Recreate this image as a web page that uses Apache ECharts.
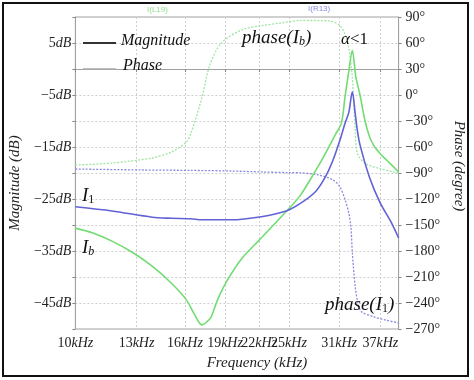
<!DOCTYPE html>
<html><head><meta charset="utf-8">
<script src="https://cdn.jsdelivr.net/npm/echarts@6/dist/echarts.min.js"></script>
<style>html,body{margin:0;padding:0;background:#fff}#c{width:474px;height:380px}</style>
</head><body><div id="c"></div>
<script>
// Frequency ticks (kHz)
const freqTicks = [10, 13, 16, 19, 22, 25, 31, 37];

// Magnitude of I_b (dB) - green solid
const ibMagFreq = [10, 10.75, 11.7, 12.74, 13.9, 15.1, 16.1, 16.65, 17.2, 17.5, 17.9, 18.4, 19.1, 20.4, 22.0, 24.6, 26.2, 28.0, 29.2, 30.5, 31.3, 31.8, 32.3, 32.8, 33.3, 33.9, 34.6, 35.3, 36.0, 36.9, 37.7, 38.5, 40];
const ibMag     = [-30.6, -31.5, -33.1, -35.2, -37.9, -41.2, -44.4, -47.1, -49.2, -48.8, -47.7, -44.4, -41, -36.5, -32.9, -27.6, -24.4, -19.6, -16.3, -12.6, -10.4, -5.2, -0.5, 3.6, -1.5, -5, -9.8, -13, -14.8, -16.2, -17.2, -18.1, -19.8];

// Magnitude of I_1 (dB) - blue solid
const i1MagFreq = [10, 11.7, 13.9, 15.1, 16.4, 17.2, 19.5, 22.2, 24.7, 26.2, 28.0, 29.2, 30.2, 31.1, 31.8, 32.3, 32.8, 33.2, 33.5, 33.9, 35.3, 36.9, 38.8, 40];
const i1Mag     = [-26.5, -27.3, -28.5, -28.7, -28.8, -29, -29, -28.4, -27.3, -25.9, -23.6, -20.8, -17.5, -13.7, -10.4, -8.4, -4.4, -8.5, -11.7, -14.6, -20.8, -25.6, -29.6, -32.5];

// Phase of I_b (degree) - green dotted
const ibPhFreq = [10, 11.7, 13.9, 15.1, 16.1, 16.4, 17.2, 17.8, 18.7, 20.4, 22.2, 24.1, 26.2, 29.8, 31.1, 31.8, 32.3, 32.8, 33.2, 33.5, 34.6, 36.9, 40];
const ibPh     = [-80.8, -78.5, -72.7, -65.8, -54.2, -45, -3.5, 34.6, 60, 75, 80, 83, 86, 85.5, 80, 70, 55, 20, -40, -67, -78.5, -85, -90];

// Phase of I_1 (degree) - blue dotted
const i1PhFreq = [10, 13.3, 16.4, 19.5, 22.2, 25.1, 26.2, 28.4, 30.2, 31.1, 31.8, 32.3, 32.6, 32.8, 33.2, 33.6, 34.1, 36.0, 38.0, 40];
const i1Ph     = [-85.4, -86.5, -87, -87.7, -88.8, -89.6, -89.8, -92.3, -98, -106, -121, -136, -152, -182, -221, -240, -250, -256, -260, -263];

const zip = (a, b) => a.map((v, i) => [v, b[i]]);
const GREEN = '#72dc72', BLUE = '#6262d6';
const SERIF = '"Liberation Serif", "DejaVu Serif", serif';
const minus = s => String(s).replace('-', '\u2212');

const chart = echarts.init(document.getElementById('c'));
chart.setOption({
  animation: false,
  backgroundColor: '#fff',
  grid: { left: 73, right: 75, top: 17, bottom: 51, show: true, borderColor: '#a0a0a0', borderWidth: 1 },
  xAxis: {
    type: 'log', logBase: 10, min: 10, max: 40,
    name: 'Frequency (kHz)', nameLocation: 'middle', nameGap: 27,
    nameTextStyle: { fontFamily: SERIF, fontStyle: 'italic', fontSize: 15, color: '#222', padding: [0, 0, 0, 40] },
    axisLine: { show: true, lineStyle: { color: '#a0a0a0' } },
    axisTick: { show: true, length: 3, customValues: freqTicks, lineStyle: { color: '#888' } },
    minorTick: { show: false },
    axisLabel: {
      customValues: freqTicks, margin: 7,
      formatter: v => '{n|' + Math.round(v) + '}{u|kHz}',
      rich: {
        n: { fontFamily: SERIF, fontSize: 14, color: '#222' },
        u: { fontFamily: SERIF, fontSize: 14, fontStyle: 'italic', color: '#222' }
      }
    },
    splitLine: { show: true, lineStyle: { color: '#cfcfcf', type: [2, 2] } }
  },
  yAxis: [{
    type: 'value', min: -50, max: 10, interval: 5,
    name: 'Magnitude (dB)', nameLocation: 'middle', nameGap: 45, nameRotate: 90,
    nameTextStyle: { fontFamily: SERIF, fontStyle: 'italic', fontSize: 15, color: '#222', padding: [0, 20, 0, 0] },
    axisLine: { show: true, lineStyle: { color: '#a0a0a0' } },
    axisTick: { show: true, length: 3, lineStyle: { color: '#888' } },
    axisLabel: {
      margin: 4,
      formatter: v => (Math.abs(v) % 10 === 5) ? '{n|' + minus(v) + '}{u|dB}' : '',
      rich: {
        n: { fontFamily: SERIF, fontSize: 14, color: '#222' },
        u: { fontFamily: SERIF, fontSize: 14, fontStyle: 'italic', color: '#222' }
      }
    },
    splitLine: { show: true, lineStyle: { color: '#cfcfcf', type: [2, 2] } }
  }, {
    type: 'value', min: -270, max: 90, interval: 30, position: 'right',
    name: 'Phase (degree)', nameLocation: 'middle', nameGap: 45, nameRotate: -90,
    nameTextStyle: { fontFamily: SERIF, fontStyle: 'italic', fontSize: 15, color: '#222', padding: [0, 14, 0, 0] },
    axisLine: { show: true, lineStyle: { color: '#a0a0a0' } },
    axisTick: { show: true, length: 3, lineStyle: { color: '#888' } },
    axisLabel: {
      margin: 7,
      formatter: v => minus(v) + '\u00b0',
      fontFamily: SERIF, fontSize: 14, color: '#222'
    },
    splitLine: { show: false }
  }],
  series: [
    { type: 'line', yAxisIndex: 1, data: zip(ibPhFreq, ibPh), showSymbol: false, smooth: 0.3,
      lineStyle: { color: '#9fe59f', width: 1.3, type: [2, 1.5] }, z: 2 },
    { type: 'line', yAxisIndex: 1, data: zip(i1PhFreq, i1Ph), showSymbol: false, smooth: 0.3,
      lineStyle: { color: '#8a8ae0', width: 1.3, type: [2, 1.5] }, z: 2 },
    { type: 'line', yAxisIndex: 0, data: zip(ibMagFreq, ibMag), showSymbol: false, smooth: 0.3,
      lineStyle: { color: GREEN, width: 1.6 }, z: 3 },
    { type: 'line', yAxisIndex: 0, data: zip(i1MagFreq, i1Mag), showSymbol: false, smooth: 0.3,
      lineStyle: { color: BLUE, width: 1.6 }, z: 3 }
  ],
  graphic: [
    { type: 'rect', shape: { x: 3, y: 3, width: 465, height: 373 }, style: { fill: 'none', stroke: '#111', lineWidth: 2 }, silent: true, z: 100 },
    { type: 'line', z: 60, shape: { x1: 83, y1: 43, x2: 116, y2: 43 }, style: { stroke: '#333', lineWidth: 2, lineDash: null } },
    { type: 'text', z: 60, left: 121, top: 33, style: { text: 'Magnitude', font: 'italic 16px ' + SERIF, fill: '#111' } },
    { type: 'line', z: 60, shape: { x1: 83, y1: 69, x2: 116, y2: 69 }, style: { stroke: '#aaa', lineWidth: 1.5, lineDash: null } },
    { type: 'text', z: 60, left: 123, top: 58, style: { text: 'Phase', font: 'italic 16px ' + SERIF, fill: '#111' } },
    { type: 'text', left: 147, top: 6, style: { text: 'I(L19)', font: '8px Arial, sans-serif', fill: '#8de08d' } },
    { type: 'text', left: 308, top: 5, style: { text: 'I(R13)', font: '8px Arial, sans-serif', fill: '#8a8ae0' } },
    { type: 'text', z: 60, left: 242, top: 28, style: { text: '{t|phase(}{i|I}{s|b}{t|)}', rich: {
        t: { font: 'italic 19px ' + SERIF, fill: '#111' }, i: { font: 'italic 19px ' + SERIF, fill: '#111' },
        s: { font: 'italic 12px ' + SERIF, fill: '#111', padding: [8, 0, 0, 0] } } } },
    { type: 'text', z: 60, left: 341, top: 31, style: { text: '{a|\u03b1}{t|<1}', rich: {
        a: { font: 'italic 17px ' + SERIF, fill: '#111' }, t: { font: '17px ' + SERIF, fill: '#111' } } } },
    { type: 'text', z: 60, left: 82, top: 186, style: { text: '{i|I}{s|1}', rich: {
        i: { font: 'italic 19px ' + SERIF, fill: '#111' }, s: { font: '12px ' + SERIF, fill: '#111', padding: [8, 0, 0, 0] } } } },
    { type: 'text', z: 60, left: 82, top: 238, style: { text: '{i|I}{s|b}', rich: {
        i: { font: 'italic 19px ' + SERIF, fill: '#111' }, s: { font: 'italic 12px ' + SERIF, fill: '#111', padding: [8, 0, 0, 0] } } } },
    { type: 'text', z: 60, left: 325, top: 295, style: { text: '{t|phase(}{i|I}{s|1}{t|)}', rich: {
        t: { font: 'italic 19px ' + SERIF, fill: '#111' }, i: { font: 'italic 19px ' + SERIF, fill: '#111' },
        s: { font: '12px ' + SERIF, fill: '#111', padding: [8, 0, 0, 0] } } } }
  ]
});
</script></body></html>
